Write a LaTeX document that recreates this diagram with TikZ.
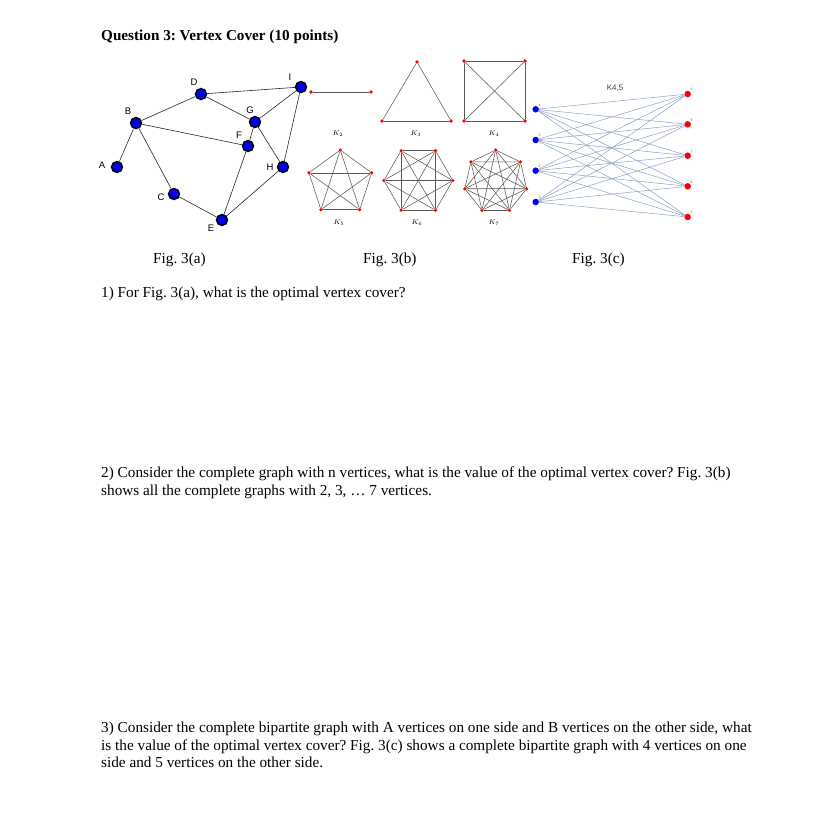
\documentclass[tikz,border=0pt]{standalone}
\usepackage{fontspec}
\setmainfont{Liberation Serif}
\setsansfont{Liberation Sans}
\usepackage{xcolor}
\definecolor{bipedge}{RGB}{140,160,198}
\definecolor{vblue}{RGB}{0,0,235}
\frenchspacing

\begin{document}
\begin{tikzpicture}[x=1pt,y=-1pt,line cap=round,
  txt/.style={anchor=base west,inner sep=0pt,font=\fontsize{15.25}{18}\selectfont},
  vtx/.style={circle,draw=black,line width=1.4pt,fill=vblue,inner sep=0pt,minimum size=11pt},
  vlbl/.style={inner sep=0pt,font=\sffamily\fontsize{9.5}{10}\selectfont},
  edge/.style={black!85,line width=0.6pt},
  dot/.style={circle,fill=red,inner sep=0pt,minimum size=3.6pt},
  kedge/.style={black!65,line width=0.55pt},
  klbl/.style={inner sep=0pt,font=\fontsize{7.5}{8}\selectfont},
  bdot/.style={circle,fill=#1,inner sep=0pt,minimum size=6.5pt},
  blbl/.style={inner sep=0pt,text=black!60,font=\sffamily\fontsize{3.5}{4}\selectfont},
  bedge/.style={bipedge,line width=0.5pt}]
\useasboundingbox (0,0) rectangle (832,839);

% question text
\node[txt,font=\bfseries\fontsize{15.2}{18}\selectfont] (title) at (101,40) {Question 3: Vertex Cover (10 points)};
\node[txt] (cap-a) at (153,263) {Fig. 3(a)};
\node[txt] (cap-b) at (363,263) {Fig. 3(b)};
\node[txt] (cap-c) at (572,263) {Fig. 3(c)};
\node[txt] (q1) at (101,297) {1) For Fig. 3(a), what is the optimal vertex cover?};
\node[txt] (q2a) at (101,477) {2) Consider the complete graph with n vertices, what is the value of the optimal vertex cover? Fig. 3(b)};
\node[txt] (q2b) at (101,495) {shows all the complete graphs with 2, 3, \dots\ 7 vertices.};
\node[txt] (q3a) at (101,732.5) {3) Consider the complete bipartite graph with A vertices on one side and B vertices on the other side, what};
\node[txt] (q3b) at (101,750) {is the value of the optimal vertex cover? Fig. 3(c) shows a complete bipartite graph with 4 vertices on one};
\node[txt] (q3c) at (101,767.5) {side and 5 vertices on the other side.};

% Fig. 3(a)
\node[vtx] (A) at (117,167) {};
\node[vtx] (B) at (136,123) {};
\node[vtx] (C) at (174,194) {};
\node[vtx] (D) at (201,94) {};
\node[vtx] (E) at (222,220) {};
\node[vtx] (F) at (248,146) {};
\node[vtx] (G) at (255,122) {};
\node[vtx] (H) at (283,167) {};
\node[vtx] (I) at (301,87) {};
\foreach \a/\b in {A/B,B/D,B/F,B/C,C/E,D/G,D/I,G/I,G/F,G/H,F/E,H/E,H/I}
  \draw[edge] (\a) -- (\b);
\node[vlbl] (lA) at (102,165) {A};
\node[vlbl] (lB) at (128,111) {B};
\node[vlbl] (lC) at (161,197) {C};
\node[vlbl] (lD) at (194,82) {D};
\node[vlbl] (lE) at (211,228) {E};
\node[vlbl] (lF) at (239,135) {F};
\node[vlbl] (lG) at (250,110) {G};
\node[vlbl] (lH) at (270,167) {H};
\node[vlbl] (lI) at (290,77) {I};

% Fig. 3(b)
\node[dot] (k2-1) at (311,92) {};
\node[dot] (k2-2) at (371,92) {};
\draw[kedge] (k2-1) -- (k2-2);
\node[dot] (k3-1) at (417,62) {};
\node[dot] (k3-2) at (451,121) {};
\node[dot] (k3-3) at (382,121) {};
\node[dot] (k4-1) at (464,61) {};
\node[dot] (k4-2) at (525,61) {};
\node[dot] (k4-3) at (525,121) {};
\node[dot] (k4-4) at (464,121) {};
\foreach \i in {1,...,5}
  \node[dot] (k5-\i) at ({340.3+33*sin((\i-1)*72)},{183-33*cos((\i-1)*72)}) {};
\foreach \i in {1,...,6}
  \node[dot] (k6-\i) at ({418.3+34.4*cos((\i-1)*60+120)},{180.5+34.4*sin((\i-1)*60+120)}) {};
\foreach \i in {1,...,7}
  \node[dot] (k7-\i) at ({495.7+31.7*sin((\i-1)*360/7)},{181.7-31.7*cos((\i-1)*360/7)}) {};
\foreach \n in {3,4,5,6,7}
  \foreach \i in {1,...,\n}
    \foreach \j in {1,...,\n} {
      \ifnum\i<\j \draw[kedge] (k\n-\i) -- (k\n-\j); \fi
    }
\node[klbl] (k2l) at (338,134) {$K_2$};
\node[klbl] (k3l) at (416,134) {$K_3$};
\node[klbl] (k4l) at (494,134) {$K_4$};
\node[klbl] (k5l) at (339,223) {$K_5$};
\node[klbl] (k6l) at (417,223) {$K_6$};
\node[klbl] (k7l) at (494,223) {$K_7$};

% Fig. 3(c)
\node[inner sep=0pt,text=black!75,font=\sffamily\fontsize{8}{8}\selectfont] (k45) at (615,88) {K4,5};
\foreach \i/\y in {4/109.3,3/140,2/170.7,1/202} {
  \node[bdot=vblue] (u\i) at (535.7,\y) {};
  \node[blbl] (lu\i) at (539.5,\y-4.5) {\i};
}
\foreach \i/\y in {9/94,8/124.3,7/155.7,6/186.3,5/217} {
  \node[bdot=red] (w\i) at (687.7,\y) {};
  \node[blbl] (lw\i) at (691.5,\y-4.5) {\i};
}
\foreach \i in {1,...,4}
  \foreach \j in {5,...,9}
    \draw[bedge] (u\i) -- (w\j);
\end{tikzpicture}
\end{document}
